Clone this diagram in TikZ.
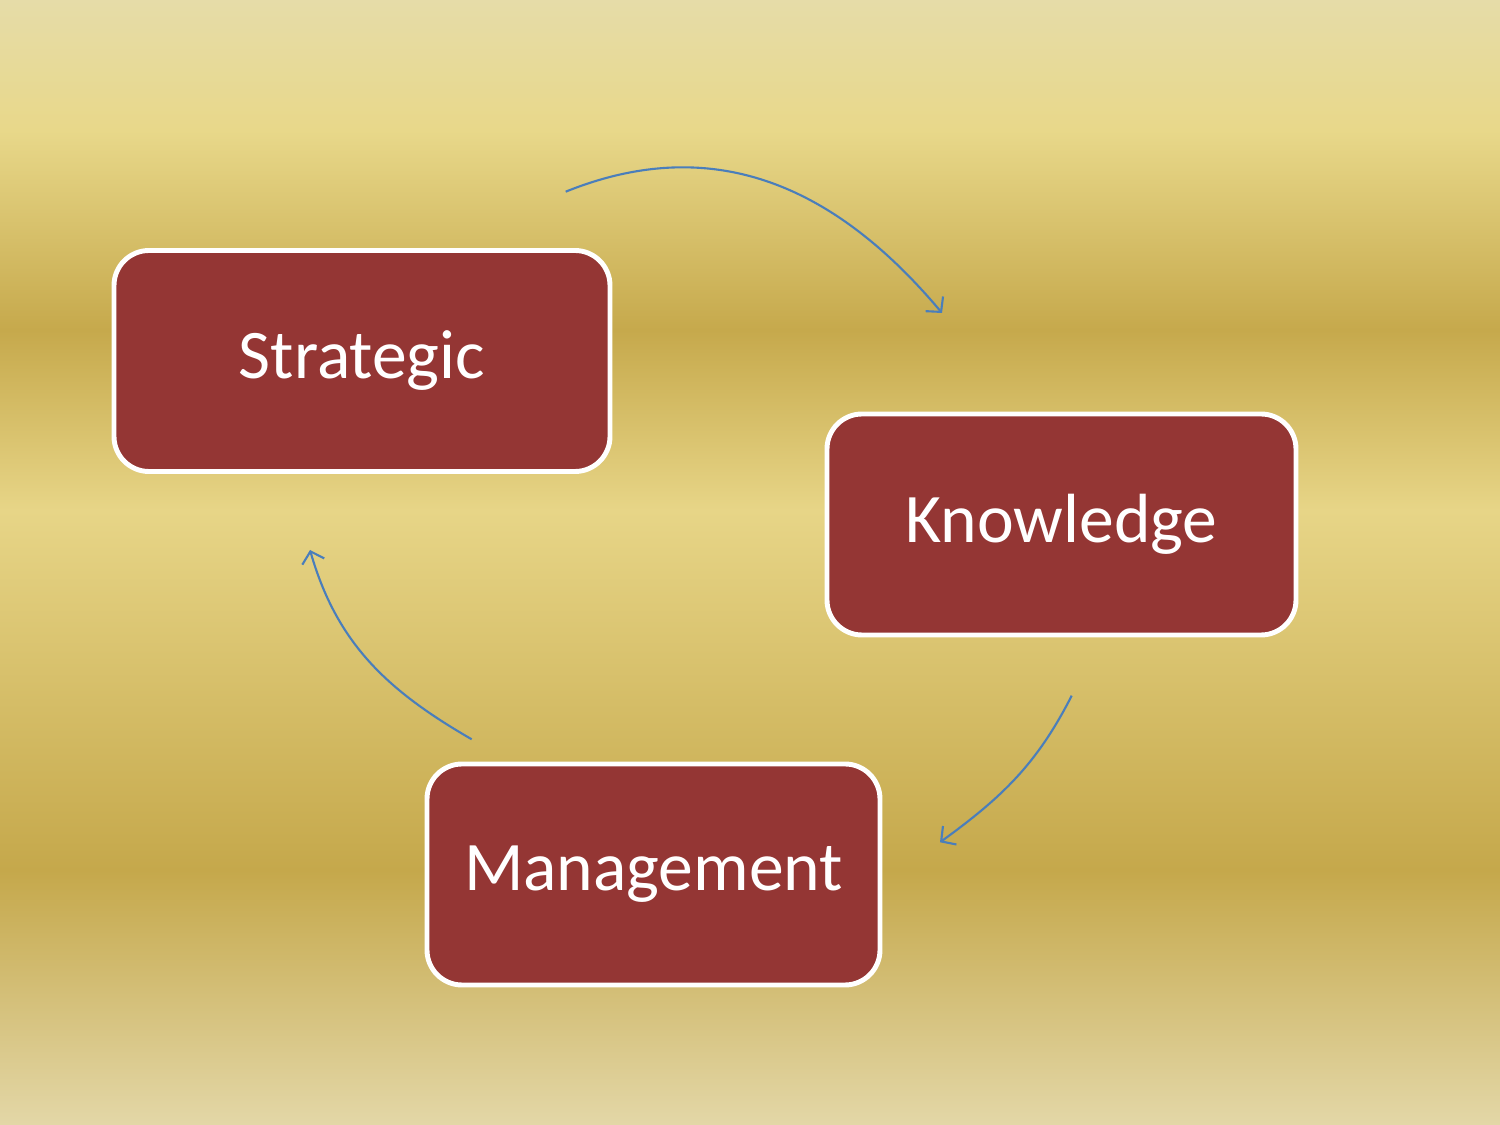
\documentclass[tikz,border=0pt]{standalone}
\usepackage{fontspec}
\setmainfont{Carlito}
\usetikzlibrary{arrows.meta}

\definecolor{boxred}{HTML}{943634}
\definecolor{arcblue}{HTML}{4A7EBB}
\definecolor{goldtop}{HTML}{E6DCA8}
\definecolor{goldlight}{HTML}{E8D88A}
\definecolor{golddark}{HTML}{C6A94C}
\definecolor{goldmid}{HTML}{E7D587}
\definecolor{goldlow}{HTML}{C5A84B}
\definecolor{goldbottom}{HTML}{E3D7A7}

% bands of the background, bottom to top
\pgfdeclareverticalshading{goldbands}{100bp}{%
  color(0bp)=(goldbottom); color(25bp)=(goldbottom);
  color(36.33bp)=(goldlow); color(52.33bp)=(goldmid);
  color(60.33bp)=(golddark); color(69.22bp)=(goldlight);
  color(75bp)=(goldtop); color(100bp)=(goldtop)}

\begin{document}
\begin{tikzpicture}[
    stage/.style={draw=white, line width=1.4pt, fill=boxred, rounded corners=0.35cm,
      minimum height=2.21cm, text=white, font=\fontsize{19.8}{24}\selectfont},
    cyclearc/.style={draw=arcblue, line width=0.6pt, -{Straight Barb[length=3pt,width=6.5pt]}}]
    % Background
    \shade[shading=goldbands] (0,0) rectangle (15,11.25);
    \useasboundingbox (0,0) rectangle (15,11.25);
    
    % Boxes
    \node[stage, minimum width=4.96cm] (strat) at (3.62,7.64) {Strategic};
    \node[stage, minimum width=4.69cm] (know) at (10.615,6.005) {Knowledge};
    \node[stage, minimum width=4.53cm] (mgmt) at (6.535,2.505) {Management};
    
    % Arrow ends
    \coordinate (a1s) at (5.657,9.333);
    \coordinate (a1e) at (9.42,8.12);
    \coordinate (a2s) at (10.717,4.293);
    \coordinate (a2e) at (9.40,2.827);
    \coordinate (a3s) at (4.717,3.857);
    \coordinate (a3e) at (3.10,5.75);
    
    % Arrows
    \draw[cyclearc] (a1s) to[out=22, in=130, looseness=1.05] (a1e);
    \draw[cyclearc] (a2s) to[out=243, in=36] (a2e);
    \draw[cyclearc] (a3s) to[out=150, in=286] (a3e);
\end{tikzpicture}
\end{document}
